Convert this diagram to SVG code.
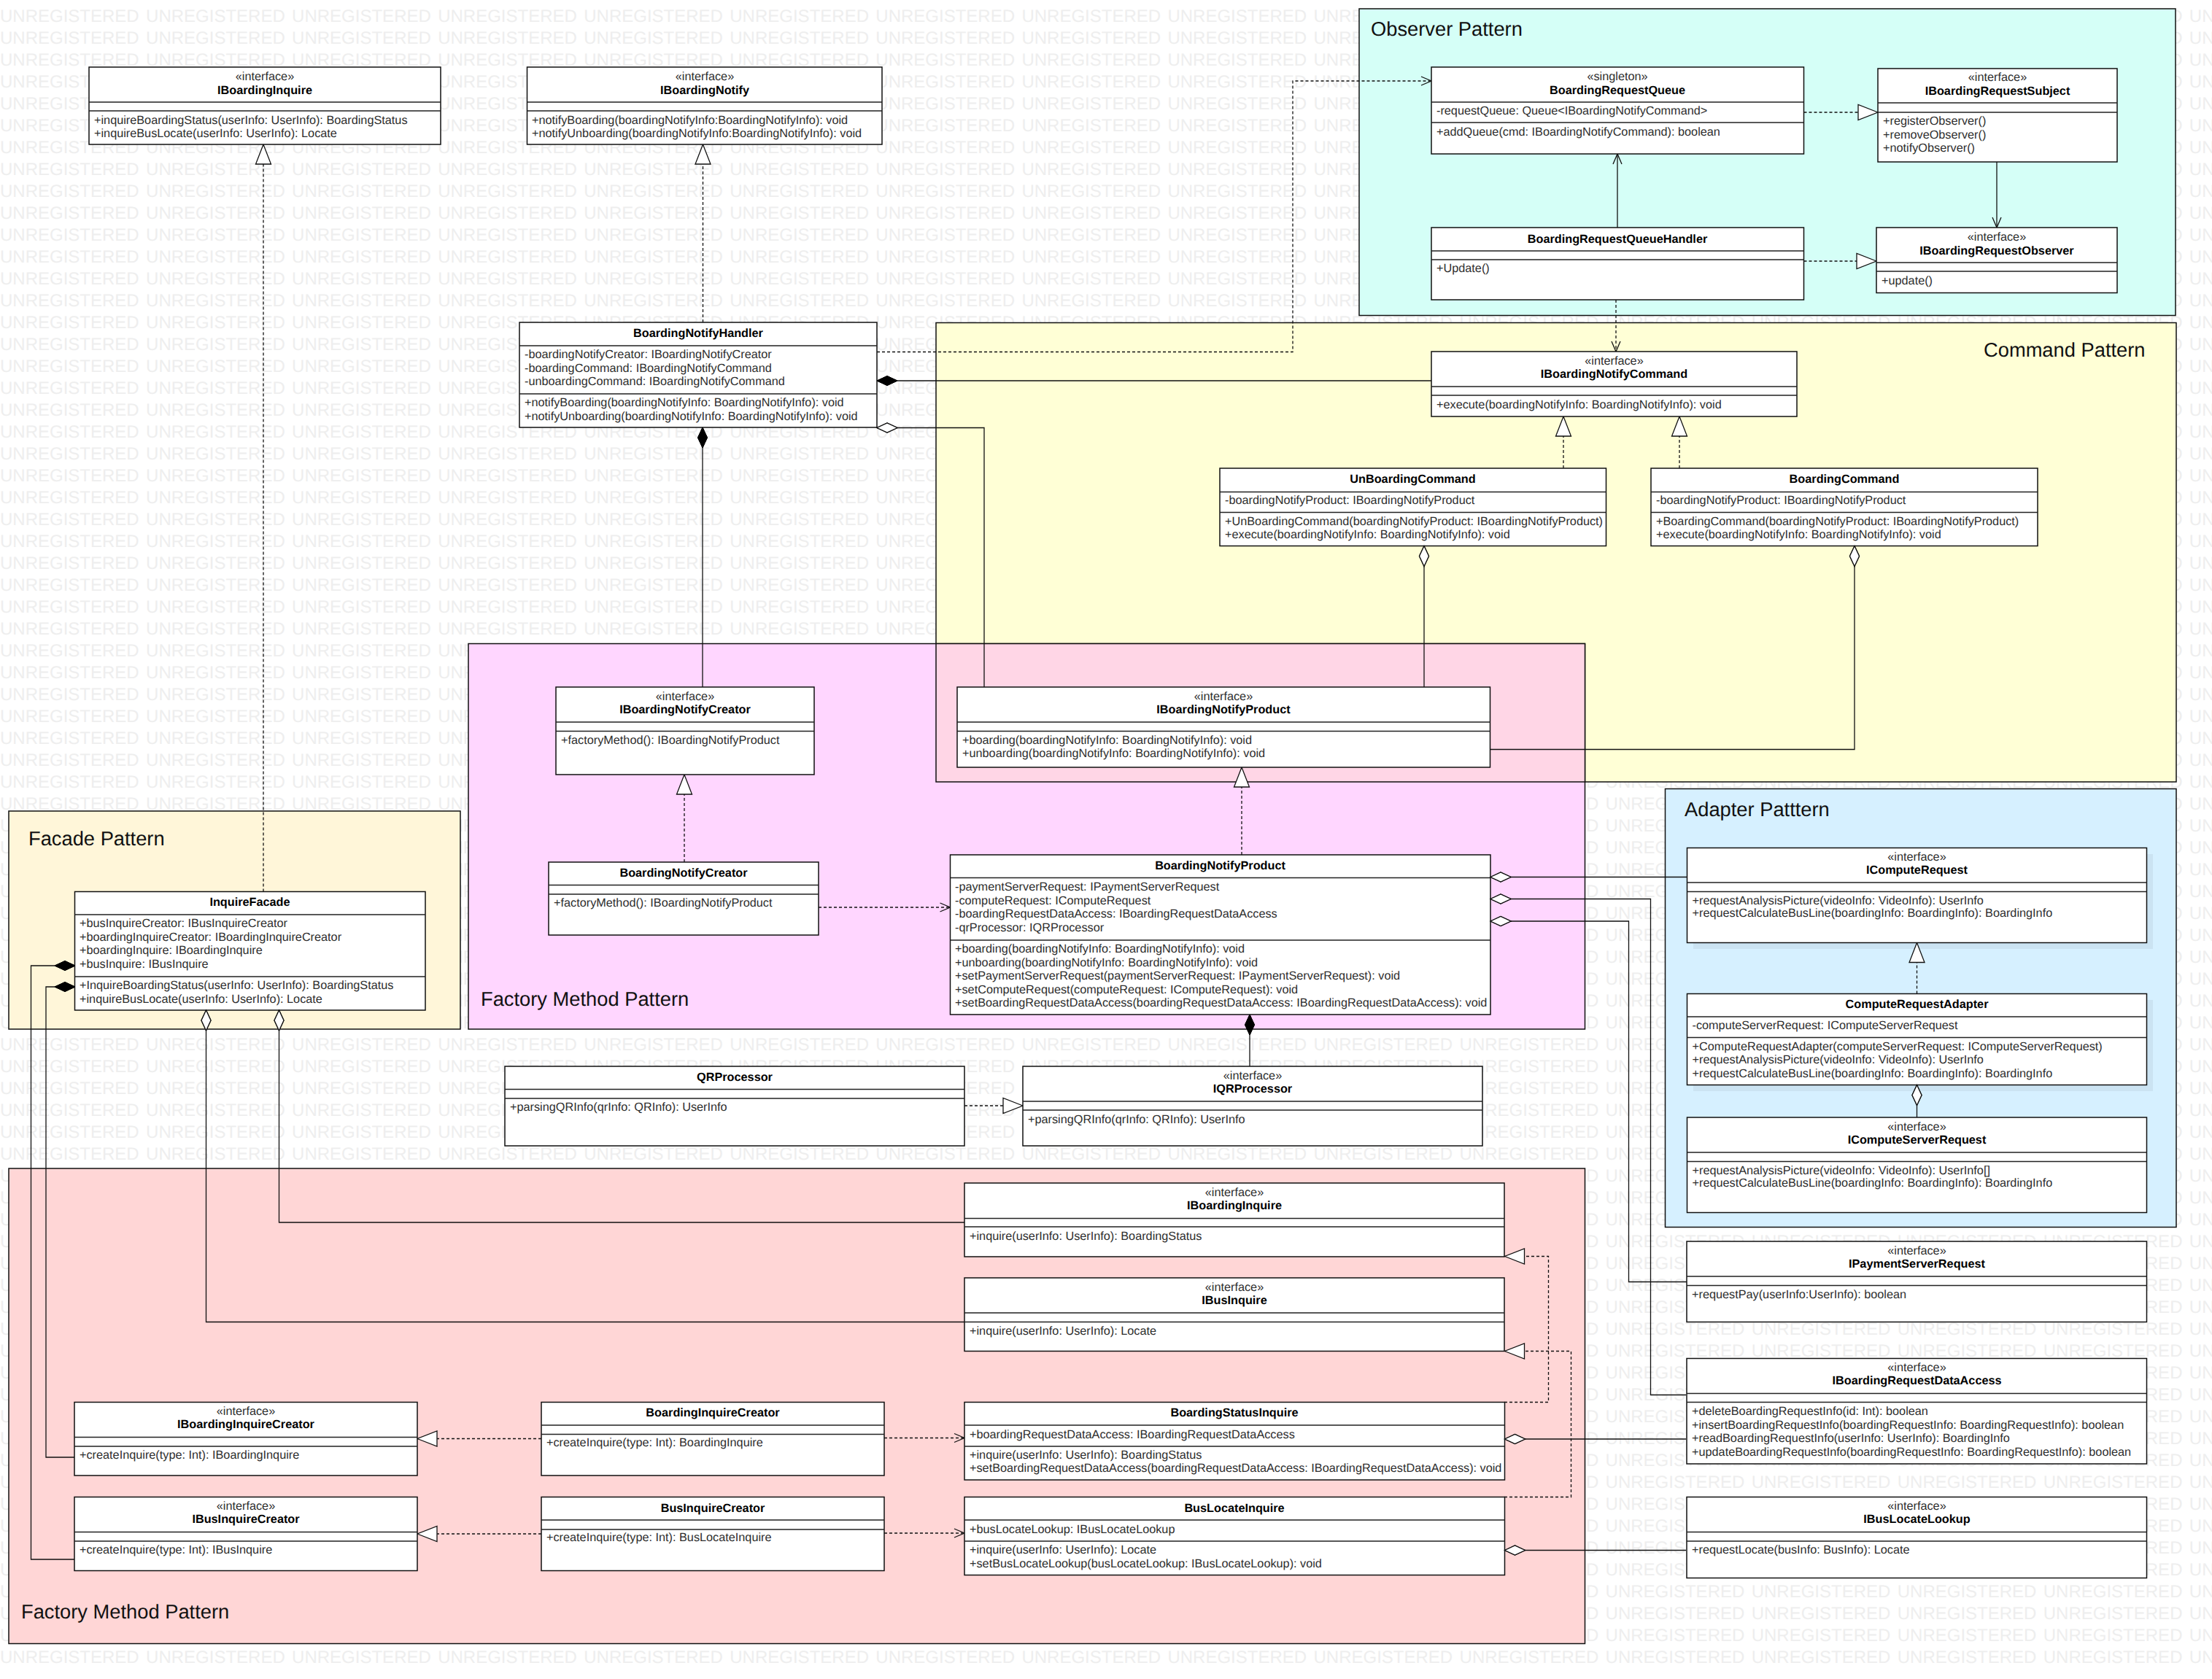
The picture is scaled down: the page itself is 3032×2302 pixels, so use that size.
<svg xmlns="http://www.w3.org/2000/svg" xmlns:xlink="http://www.w3.org/1999/xlink" width="3032" height="2302" viewBox="0 0 3032 2302">
<style>
text{font-family:"Liberation Sans",Arial,sans-serif;font-size:16.25px;fill:#2e2e2e;text-rendering:geometricPrecision;transform:translateY(-0.8px)}
.c{text-anchor:middle}
.b{font-weight:bold;fill:#000}
.ttl{font-size:27.3px;fill:#111;transform:translateY(-1.2px)}
.wm{font-size:24px;fill:#eeeeee;word-spacing:2.7px;transform:none}
.box{fill:#fff;stroke:#111;stroke-width:1.5}
.div{fill:none;stroke:#222;stroke-width:1.5}
.grp{stroke:#111;stroke-width:1.5}
.sh{fill:#000;fill-opacity:.05}
.ln{fill:none;stroke:#111;stroke-width:1.3}
.ds{stroke-dasharray:4 3}
.real{marker-end:url(#tri)}
.open{marker-end:url(#arr)}
.cmp{marker-start:url(#fd)}
.agg{marker-start:url(#od)}
</style>
<defs>
<marker id="tri" markerUnits="userSpaceOnUse" orient="auto" overflow="visible" markerWidth="30" markerHeight="24" refX="0" refY="0"><path d="M0,0L-27,-10.5V10.5Z" fill="#fff" stroke="#111" stroke-width="1.3"/></marker>
<marker id="arr" markerUnits="userSpaceOnUse" orient="auto" overflow="visible" markerWidth="16" markerHeight="14" refX="0" refY="0"><path d="M-14,-6L0,0L-14,6" fill="none" stroke="#111" stroke-width="1.3"/></marker>
<marker id="fd" markerUnits="userSpaceOnUse" orient="auto" overflow="visible" markerWidth="30" markerHeight="16" refX="0" refY="0"><path d="M0,0L14,-6.5L28,0L14,6.5Z" fill="#000" stroke="#000" stroke-width="1"/></marker>
<marker id="od" markerUnits="userSpaceOnUse" orient="auto" overflow="visible" markerWidth="30" markerHeight="16" refX="0" refY="0"><path d="M0,0L14,-6.5L28,0L14,6.5Z" fill="#fff" stroke="#111" stroke-width="1.3"/></marker>
<text id="wr" class="wm" x="0" y="0">UNREGISTERED UNREGISTERED UNREGISTERED UNREGISTERED UNREGISTERED UNREGISTERED UNREGISTERED UNREGISTERED UNREGISTERED UNREGISTERED UNREGISTERED UNREGISTERED UNREGISTERED UNREGISTERED UNREGISTERED UNREGISTERED</text>
</defs>
<rect width="3032" height="2302" fill="#fff"/>
<g id="watermark">
<use href="#wr" y="30"/><use href="#wr" y="60"/><use href="#wr" y="90"/><use href="#wr" y="120"/><use href="#wr" y="150"/><use href="#wr" y="180"/><use href="#wr" y="210"/><use href="#wr" y="240"/><use href="#wr" y="270"/><use href="#wr" y="300"/><use href="#wr" y="330"/><use href="#wr" y="360"/><use href="#wr" y="390"/><use href="#wr" y="420"/><use href="#wr" y="450"/><use href="#wr" y="480"/><use href="#wr" y="510"/><use href="#wr" y="540"/><use href="#wr" y="570"/><use href="#wr" y="600"/><use href="#wr" y="630"/><use href="#wr" y="660"/><use href="#wr" y="690"/><use href="#wr" y="720"/><use href="#wr" y="750"/><use href="#wr" y="780"/><use href="#wr" y="810"/><use href="#wr" y="840"/><use href="#wr" y="870"/><use href="#wr" y="900"/><use href="#wr" y="930"/><use href="#wr" y="960"/><use href="#wr" y="990"/><use href="#wr" y="1020"/><use href="#wr" y="1050"/><use href="#wr" y="1080"/><use href="#wr" y="1110"/><use href="#wr" y="1140"/><use href="#wr" y="1170"/><use href="#wr" y="1200"/><use href="#wr" y="1230"/><use href="#wr" y="1260"/><use href="#wr" y="1290"/><use href="#wr" y="1320"/><use href="#wr" y="1350"/><use href="#wr" y="1380"/><use href="#wr" y="1410"/><use href="#wr" y="1440"/><use href="#wr" y="1470"/><use href="#wr" y="1500"/><use href="#wr" y="1530"/><use href="#wr" y="1560"/><use href="#wr" y="1590"/><use href="#wr" y="1620"/><use href="#wr" y="1650"/><use href="#wr" y="1680"/><use href="#wr" y="1710"/><use href="#wr" y="1740"/><use href="#wr" y="1770"/><use href="#wr" y="1800"/><use href="#wr" y="1830"/><use href="#wr" y="1860"/><use href="#wr" y="1890"/><use href="#wr" y="1920"/><use href="#wr" y="1950"/><use href="#wr" y="1980"/><use href="#wr" y="2010"/><use href="#wr" y="2040"/><use href="#wr" y="2070"/><use href="#wr" y="2100"/><use href="#wr" y="2130"/><use href="#wr" y="2160"/><use href="#wr" y="2190"/><use href="#wr" y="2220"/><use href="#wr" y="2250"/><use href="#wr" y="2280"/>
</g>
<g id="pattern-observer"><rect class="grp" x="1863" y="12" width="1119" height="420.5" fill="#D5FFF7"/><text class="ttl" x="1879" y="50">Observer Pattern</text></g>
<g id="pattern-command"><rect class="grp" x="1283" y="442.5" width="1700" height="629.5" fill="#FFFFD6"/><text class="ttl" x="2719" y="490">Command Pattern</text></g>
<g id="pattern-factory-notify"><rect class="grp" x="642" y="882.5" width="1530.5" height="528.5" fill="#FFD6FF"/><rect class="grp" x="1283" y="882.5" width="889.5" height="189.5" fill="#FFD6E6"/><text class="ttl" x="659" y="1380.5">Factory Method Pattern</text></g>
<g id="pattern-facade"><rect class="grp" x="12" y="1112" width="619" height="299" fill="#FFF6D9"/><text class="ttl" x="39" y="1160">Facade Pattern</text></g>
<g id="pattern-adapter"><rect class="grp" x="2282.5" y="1081.5" width="700.5" height="601" fill="#D6F0FF"/><text class="ttl" x="2309" y="1120">Adapter Patttern</text></g>
<g id="pattern-factory-inquire"><rect class="grp" x="12" y="1602" width="2160.5" height="651.5" fill="#FFD6D6"/><text class="ttl" x="29" y="2220">Factory Method Pattern</text></g>
<g id="shadows"><rect class="sh" x="2321" y="1171" width="630" height="130"/><rect class="sh" x="2321" y="1371" width="630" height="125"/></g>
<g id="connectors">
<path class="ln ds real" d="M361,1222.5V198"/>
<path class="ln ds real" d="M963.5,442V198"/>
<path class="ln ds open" d="M1202,482.5H1772V111H1962"/>
<path class="ln cmp" d="M1202,522H1962"/>
<path class="ln agg" d="M1202,586.5H1349V942"/>
<path class="ln cmp" d="M963,586V942"/>
<path class="ln ds real" d="M2472.5,154H2574"/>
<path class="ln ds real" d="M2472.5,358H2572"/>
<path class="ln open" d="M2217,312V211"/>
<path class="ln open" d="M2737,222V312"/>
<path class="ln ds open" d="M2215,411V482"/>
<path class="ln ds real" d="M2143,642V571"/>
<path class="ln ds real" d="M2302,642V571"/>
<path class="ln agg" d="M1952,748.5V942"/>
<path class="ln agg" d="M2542,748.5V1027.5H2042.5"/>
<path class="ln ds real" d="M938,1182V1062"/>
<path class="ln ds real" d="M1702,1172V1052"/>
<path class="ln ds open" d="M1122,1244H1302.5"/>
<path class="ln agg" d="M2043,1202.5H2312.5"/>
<path class="ln agg" d="M2043,1232.5H2262.5V1912.5H2311"/>
<path class="ln agg" d="M2043,1263H2232.5V1757.5H2312"/>
<path class="ln cmp" d="M1713,1391V1462"/>
<path class="ln ds real" d="M1322,1516H1402"/>
<path class="ln cmp" d="M103,1324H42.5V2138H102"/>
<path class="ln cmp" d="M103,1353H63V1998H102"/>
<path class="ln agg" d="M282.5,1385V1812.5H1322"/>
<path class="ln agg" d="M382.5,1385V1676H1322"/>
<path class="ln ds real" d="M2627.5,1362.5V1292.5"/>
<path class="ln agg" d="M2627.5,1487.5V1532"/>
<path class="ln ds real" d="M742,1972.5H572"/>
<path class="ln ds real" d="M742,2103H572"/>
<path class="ln ds open" d="M1212,1971.5H1322"/>
<path class="ln ds open" d="M1212,2102H1322"/>
<path class="ln ds real" d="M2062,1922.5H2122.5V1722.5H2062.5"/>
<path class="ln ds real" d="M2062,2052.5H2153.5V1852.5H2062.5"/>
<path class="ln agg" d="M2062.5,1973H2311"/>
<path class="ln agg" d="M2062.5,2125.5H2311"/>
</g>
<g id="node-IBoardingInquire-top"><rect class="box" x="122" y="92" width="482" height="106"/><path class="div" d="M122,140H604M122,152H604"/><text class="c" x="363" y="111">«interface»</text><text class="c b" x="363" y="129.5">IBoardingInquire</text><text x="129" y="171">+inquireBoardingStatus(userInfo: UserInfo): BoardingStatus</text><text x="129" y="188.5">+inquireBusLocate(userInfo: UserInfo): Locate</text></g>
<g id="node-IBoardingNotify"><rect class="box" x="722.5" y="92" width="486.5" height="106"/><path class="div" d="M722.5,140H1209M722.5,152H1209"/><text class="c" x="966" y="111">«interface»</text><text class="c b" x="966" y="129.5">IBoardingNotify</text><text x="729" y="171">+notifyBoarding(boardingNotifyInfo:BoardingNotifyInfo): void</text><text x="729" y="188.5">+notifyUnboarding(boardingNotifyInfo:BoardingNotifyInfo): void</text></g>
<g id="node-BoardingRequestQueue"><rect class="box" x="1962" y="92" width="510.5" height="119"/><path class="div" d="M1962,140H2472.5M1962,168H2472.5"/><text class="c" x="2217" y="111">«singleton»</text><text class="c b" x="2217" y="129.5">BoardingRequestQueue</text><text x="1969" y="158">-requestQueue: Queue&lt;IBoardingNotifyCommand&gt;</text><text x="1969" y="187">+addQueue(cmd: IBoardingNotifyCommand): boolean</text></g>
<g id="node-IBoardingRequestSubject"><rect class="box" x="2574" y="94" width="328" height="128"/><path class="div" d="M2574,141H2902M2574,154H2902"/><text class="c" x="2738" y="112">«interface»</text><text class="c b" x="2738" y="131">IBoardingRequestSubject</text><text x="2581" y="172">+registerObserver()</text><text x="2581" y="191">+removeObserver()</text><text x="2581" y="209">+notifyObserver()</text></g>
<g id="node-BoardingRequestQueueHandler"><rect class="box" x="1962" y="312" width="510.5" height="99"/><path class="div" d="M1962,344H2472.5M1962,356H2472.5"/><text class="c b" x="2217" y="333.5">BoardingRequestQueueHandler</text><text x="1969" y="374">+Update()</text></g>
<g id="node-IBoardingRequestObserver"><rect class="box" x="2572" y="312" width="330" height="89.5"/><path class="div" d="M2572,360H2902M2572,372H2902"/><text class="c" x="2737" y="331">«interface»</text><text class="c b" x="2737" y="349.5">IBoardingRequestObserver</text><text x="2579" y="391">+update()</text></g>
<g id="node-BoardingNotifyHandler"><rect class="box" x="712" y="442" width="490" height="144"/><path class="div" d="M712,474H1202M712,540H1202"/><text class="c b" x="957" y="463">BoardingNotifyHandler</text><text x="719" y="492">-boardingNotifyCreator: IBoardingNotifyCreator</text><text x="719" y="510.5">-boardingCommand: IBoardingNotifyCommand</text><text x="719" y="529">-unboardingCommand: IBoardingNotifyCommand</text><text x="719" y="558">+notifyBoarding(boardingNotifyInfo: BoardingNotifyInfo): void</text><text x="719" y="577">+notifyUnboarding(boardingNotifyInfo: BoardingNotifyInfo): void</text></g>
<g id="node-IBoardingNotifyCommand"><rect class="box" x="1962" y="482" width="501" height="89"/><path class="div" d="M1962,530H2463M1962,542H2463"/><text class="c" x="2212.5" y="501">«interface»</text><text class="c b" x="2212.5" y="519">IBoardingNotifyCommand</text><text x="1969" y="561">+execute(boardingNotifyInfo: BoardingNotifyInfo): void</text></g>
<g id="node-UnBoardingCommand"><rect class="box" x="1672" y="642" width="529.5" height="106.5"/><path class="div" d="M1672,674.5H2201.5M1672,702.5H2201.5"/><text class="c b" x="1936.5" y="663">UnBoardingCommand</text><text x="1679" y="691.5">-boardingNotifyProduct: IBoardingNotifyProduct</text><text x="1679" y="720.5">+UnBoardingCommand(boardingNotifyProduct: IBoardingNotifyProduct)</text><text x="1679" y="739">+execute(boardingNotifyInfo: BoardingNotifyInfo): void</text></g>
<g id="node-BoardingCommand"><rect class="box" x="2263" y="642" width="530" height="106.5"/><path class="div" d="M2263,674.5H2793M2263,702.5H2793"/><text class="c b" x="2528" y="663">BoardingCommand</text><text x="2270" y="691.5">-boardingNotifyProduct: IBoardingNotifyProduct</text><text x="2270" y="720.5">+BoardingCommand(boardingNotifyProduct: IBoardingNotifyProduct)</text><text x="2270" y="739">+execute(boardingNotifyInfo: BoardingNotifyInfo): void</text></g>
<g id="node-IBoardingNotifyCreator"><rect class="box" x="762" y="942" width="354" height="120"/><path class="div" d="M762,990H1116M762,1002.5H1116"/><text class="c" x="939" y="961">«interface»</text><text class="c b" x="939" y="979">IBoardingNotifyCreator</text><text x="769" y="1020.5">+factoryMethod(): IBoardingNotifyProduct</text></g>
<g id="node-IBoardingNotifyProduct"><rect class="box" x="1312" y="942" width="730.5" height="110"/><path class="div" d="M1312,990H2042.5M1312,1002.5H2042.5"/><text class="c" x="1677" y="961">«interface»</text><text class="c b" x="1677" y="979">IBoardingNotifyProduct</text><text x="1319" y="1020.5">+boarding(boardingNotifyInfo: BoardingNotifyInfo): void</text><text x="1319" y="1039">+unboarding(boardingNotifyInfo: BoardingNotifyInfo): void</text></g>
<g id="node-BoardingNotifyCreator"><rect class="box" x="752" y="1182" width="370" height="100"/><path class="div" d="M752,1213.5H1122M752,1226H1122"/><text class="c b" x="937" y="1203">BoardingNotifyCreator</text><text x="759" y="1244">+factoryMethod(): IBoardingNotifyProduct</text></g>
<g id="node-BoardingNotifyProduct"><rect class="box" x="1302.5" y="1172" width="740.5" height="219"/><path class="div" d="M1302.5,1203.5H2043M1302.5,1289H2043"/><text class="c b" x="1672.5" y="1193">BoardingNotifyProduct</text><text x="1309" y="1222">-paymentServerRequest: IPaymentServerRequest</text><text x="1309" y="1240.5">-computeRequest: IComputeRequest</text><text x="1309" y="1259">-boardingRequestDataAccess: IBoardingRequestDataAccess</text><text x="1309" y="1277.5">-qrProcessor: IQRProcessor</text><text x="1309" y="1307">+boarding(boardingNotifyInfo: BoardingNotifyInfo): void</text><text x="1309" y="1325.5">+unboarding(boardingNotifyInfo: BoardingNotifyInfo): void</text><text x="1309" y="1344">+setPaymentServerRequest(paymentServerRequest: IPaymentServerRequest): void</text><text x="1309" y="1362.5">+setComputeRequest(computeRequest: IComputeRequest): void</text><text x="1309" y="1381">+setBoardingRequestDataAccess(boardingRequestDataAccess: IBoardingRequestDataAccess): void</text></g>
<g id="node-InquireFacade"><rect class="box" x="102.5" y="1222.5" width="480.5" height="162.5"/><path class="div" d="M102.5,1254H583M102.5,1339H583"/><text class="c b" x="342.5" y="1243">InquireFacade</text><text x="109" y="1271.5">+busInquireCreator: IBusInquireCreator</text><text x="109" y="1290.5">+boardingInquireCreator: IBoardingInquireCreator</text><text x="109" y="1308.5">+boardingInquire: IBoardingInquire</text><text x="109" y="1327.5">+busInquire: IBusInquire</text><text x="109" y="1356.5">+InquireBoardingStatus(userInfo: UserInfo): BoardingStatus</text><text x="109" y="1375.5">+inquireBusLocate(userInfo: UserInfo): Locate</text></g>
<g id="node-QRProcessor"><rect class="box" x="692" y="1462" width="630" height="109"/><path class="div" d="M692,1493.5H1322M692,1506H1322"/><text class="c b" x="1007" y="1483">QRProcessor</text><text x="699" y="1523.5">+parsingQRInfo(qrInfo: QRInfo): UserInfo</text></g>
<g id="node-IQRProcessor"><rect class="box" x="1402" y="1462" width="630" height="109"/><path class="div" d="M1402,1510H2032M1402,1522H2032"/><text class="c" x="1717" y="1481">«interface»</text><text class="c b" x="1717" y="1499">IQRProcessor</text><text x="1409" y="1541">+parsingQRInfo(qrInfo: QRInfo): UserInfo</text></g>
<g id="node-IBoardingInquire"><rect class="box" x="1322" y="1622" width="740" height="101"/><path class="div" d="M1322,1670.5H2062M1322,1682H2062"/><text class="c" x="1692" y="1641">«interface»</text><text class="c b" x="1692" y="1659">IBoardingInquire</text><text x="1329" y="1701">+inquire(userInfo: UserInfo): BoardingStatus</text></g>
<g id="node-IBusInquire"><rect class="box" x="1322" y="1752" width="740" height="100.5"/><path class="div" d="M1322,1800H2062M1322,1812.5H2062"/><text class="c" x="1692" y="1771">«interface»</text><text class="c b" x="1692" y="1789">IBusInquire</text><text x="1329" y="1831">+inquire(userInfo: UserInfo): Locate</text></g>
<g id="node-BoardingStatusInquire"><rect class="box" x="1322" y="1922.5" width="740.5" height="106.5"/><path class="div" d="M1322,1954H2062.5M1322,1983H2062.5"/><text class="c b" x="1692" y="1943">BoardingStatusInquire</text><text x="1329" y="1972.5">+boardingRequestDataAccess: IBoardingRequestDataAccess</text><text x="1329" y="2001">+inquire(userInfo: UserInfo): BoardingStatus</text><text x="1329" y="2019">+setBoardingRequestDataAccess(boardingRequestDataAccess: IBoardingRequestDataAccess): void</text></g>
<g id="node-BusLocateInquire"><rect class="box" x="1322" y="2052.5" width="740.5" height="107"/><path class="div" d="M1322,2084H2062.5M1322,2113H2062.5"/><text class="c b" x="1692" y="2073.5">BusLocateInquire</text><text x="1329" y="2102.5">+busLocateLookup: IBusLocateLookup</text><text x="1329" y="2131">+inquire(userInfo: UserInfo): Locate</text><text x="1329" y="2149.5">+setBusLocateLookup(busLocateLookup: IBusLocateLookup): void</text></g>
<g id="node-IBoardingInquireCreator"><rect class="box" x="102" y="1922.5" width="470" height="100.5"/><path class="div" d="M102,1970.5H572M102,1983H572"/><text class="c" x="337" y="1941">«interface»</text><text class="c b" x="337" y="1959">IBoardingInquireCreator</text><text x="109" y="2001">+createInquire(type: Int): IBoardingInquire</text></g>
<g id="node-IBusInquireCreator"><rect class="box" x="102" y="2052.5" width="470" height="101"/><path class="div" d="M102,2100.5H572M102,2113H572"/><text class="c" x="337" y="2071">«interface»</text><text class="c b" x="337" y="2089">IBusInquireCreator</text><text x="109" y="2131">+createInquire(type: Int): IBusInquire</text></g>
<g id="node-BoardingInquireCreator"><rect class="box" x="742" y="1922.5" width="470" height="100.5"/><path class="div" d="M742,1954H1212M742,1966.5H1212"/><text class="c b" x="977" y="1943">BoardingInquireCreator</text><text x="749" y="1984">+createInquire(type: Int): BoardingInquire</text></g>
<g id="node-BusInquireCreator"><rect class="box" x="742" y="2052.5" width="470" height="101"/><path class="div" d="M742,2084H1212M742,2097H1212"/><text class="c b" x="977" y="2073.5">BusInquireCreator</text><text x="749" y="2114">+createInquire(type: Int): BusLocateInquire</text></g>
<g id="node-IComputeRequest"><rect class="box" x="2312.5" y="1162.5" width="630" height="130"/><path class="div" d="M2312.5,1210H2942.5M2312.5,1222.5H2942.5"/><text class="c" x="2627.5" y="1180.5">«interface»</text><text class="c b" x="2627.5" y="1198.5">IComputeRequest</text><text x="2319.5" y="1240.5">+requestAnalysisPicture(videoInfo: VideoInfo): UserInfo</text><text x="2319.5" y="1258">+requestCalculateBusLine(boardingInfo: BoardingInfo): BoardingInfo</text></g>
<g id="node-ComputeRequestAdapter"><rect class="box" x="2312.5" y="1362.5" width="630" height="125"/><path class="div" d="M2312.5,1394H2942.5M2312.5,1422.5H2942.5"/><text class="c b" x="2627.5" y="1382.5">ComputeRequestAdapter</text><text x="2319.5" y="1411.5">-computeServerRequest: IComputeServerRequest</text><text x="2319.5" y="1440.5">+ComputeRequestAdapter(computeServerRequest: IComputeServerRequest)</text><text x="2319.5" y="1458.5">+requestAnalysisPicture(videoInfo: VideoInfo): UserInfo</text><text x="2319.5" y="1477.5">+requestCalculateBusLine(boardingInfo: BoardingInfo): BoardingInfo</text></g>
<g id="node-IComputeServerRequest"><rect class="box" x="2312.5" y="1532" width="630" height="130.5"/><path class="div" d="M2312.5,1580H2942.5M2312.5,1592.5H2942.5"/><text class="c" x="2627.5" y="1550.5">«interface»</text><text class="c b" x="2627.5" y="1568.5">IComputeServerRequest</text><text x="2319.5" y="1610.5">+requestAnalysisPicture(videoInfo: VideoInfo): UserInfo[]</text><text x="2319.5" y="1628">+requestCalculateBusLine(boardingInfo: BoardingInfo): BoardingInfo</text></g>
<g id="node-IPaymentServerRequest"><rect class="box" x="2312" y="1702" width="630.5" height="110.5"/><path class="div" d="M2312,1750H2942.5M2312,1762.5H2942.5"/><text class="c" x="2627.5" y="1721">«interface»</text><text class="c b" x="2627.5" y="1739">IPaymentServerRequest</text><text x="2319" y="1781">+requestPay(userInfo:UserInfo): boolean</text></g>
<g id="node-IBoardingRequestDataAccess"><rect class="box" x="2312" y="1862.5" width="630.5" height="144.5"/><path class="div" d="M2312,1910.5H2942.5M2312,1922.5H2942.5"/><text class="c" x="2627.5" y="1881">«interface»</text><text class="c b" x="2627.5" y="1899">IBoardingRequestDataAccess</text><text x="2319" y="1941">+deleteBoardingRequestInfo(id: Int): boolean</text><text x="2319" y="1959.5">+insertBoardingRequestInfo(boardingRequestInfo: BoardingRequestInfo): boolean</text><text x="2319" y="1978">+readBoardingRequestInfo(userInfo: UserInfo): BoardingInfo</text><text x="2319" y="1997">+updateBoardingRequestInfo(boardingRequestInfo: BoardingRequestInfo): boolean</text></g>
<g id="node-IBusLocateLookup"><rect class="box" x="2312" y="2052.5" width="630.5" height="111"/><path class="div" d="M2312,2100.5H2942.5M2312,2113H2942.5"/><text class="c" x="2627.5" y="2071">«interface»</text><text class="c b" x="2627.5" y="2089">IBusLocateLookup</text><text x="2319" y="2131">+requestLocate(busInfo: BusInfo): Locate</text></g>
<g id="connector-heads">
<path class="ln cmp" d="M1202,522h1"/><path class="ln agg" d="M1202,586.5h1"/><path class="ln cmp" d="M963,586v1"/>
<path class="ln agg" d="M1952,748.5v1"/><path class="ln agg" d="M2542,748.5v1"/>
<path class="ln agg" d="M2043,1202.5h1"/><path class="ln agg" d="M2043,1232.5h1"/><path class="ln agg" d="M2043,1263h1"/>
<path class="ln cmp" d="M1713,1391v1"/><path class="ln cmp" d="M103,1324h-1"/><path class="ln cmp" d="M103,1353h-1"/>
<path class="ln agg" d="M282.5,1385v1"/><path class="ln agg" d="M382.5,1385v1"/><path class="ln agg" d="M2627.5,1487.5v1"/>
<path class="ln agg" d="M2062.5,1973h1"/><path class="ln agg" d="M2062.5,2125.5h1"/>
</g>
</svg>
